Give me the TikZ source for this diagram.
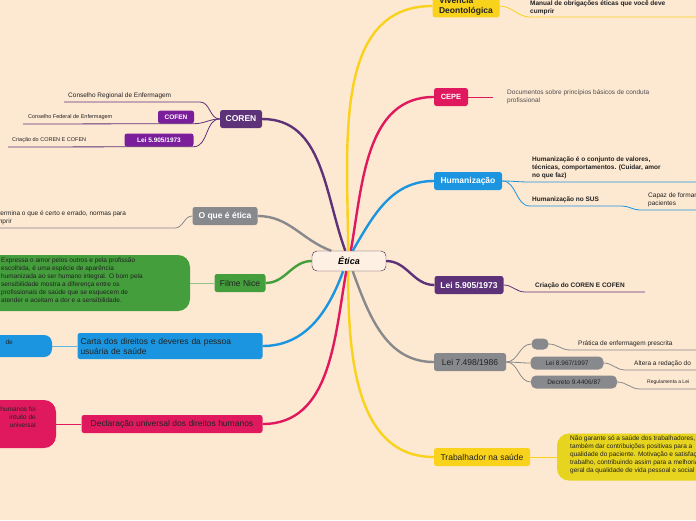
\documentclass[tikz,border=0pt]{standalone}
\usepackage{fontspec}
\setmainfont{Liberation Sans}
\setsansfont{Liberation Sans}
\definecolor{bg}{HTML}{FDE8D2}
\definecolor{pur}{HTML}{5E3278}
\definecolor{pur2}{HTML}{7A1E9C}
\definecolor{mag}{HTML}{E0195F}
\definecolor{blu}{HTML}{1B95E0}
\definecolor{gry}{HTML}{88898C}
\definecolor{yel}{HTML}{F9D21B}
\definecolor{yel2}{HTML}{E6D41E}
\definecolor{grn}{HTML}{449E3C}
\definecolor{txt}{HTML}{222222}
\tikzset{
 box/.style={rounded corners=2.5pt,inner sep=2pt,font=\fontsize{8.5}{10}\selectfont,align=left},
 pill/.style={rounded corners=5pt,inner sep=2pt,fill=gry,text=txt,font=\fontsize{6.5}{7}\selectfont,minimum height=13pt},
 br/.style={line width=2.4pt},
 sb/.style={line width=0.8pt},
 lbl/.style={inner sep=0pt,anchor=west,align=left,text=txt,font=\fontsize{6.5}{8}\selectfont},
 blbl/.style={lbl,font=\bfseries\fontsize{6.5}{8}\selectfont},
 bub/.style={rounded corners=12pt,inner sep=0pt}
}
\begin{document}
\begin{tikzpicture}[x=1pt,y=-1pt]
\useasboundingbox (0,0) rectangle (696,520);
\clip (0,0) rectangle (696,520);
\fill[bg] (0,0) rectangle (696,520);
% center
\node[draw=pur!60!black,fill=bg!60!white,rounded corners=5pt,minimum width=74pt,minimum height=20pt,font=\rmfamily\bfseries\itshape\fontsize{9}{10}\selectfont] (etica) at (349,261) {Ética};
% right main nodes
\node[box,fill=yel,text=txt,font=\bfseries\fontsize{8.5}{10.5}\selectfont,minimum width=67pt] (viv) at (466,6) {Vivência\\Deontológica};
\node[box,fill=mag,text=white,font=\bfseries\fontsize{7.5}{8}\selectfont,minimum width=34pt,minimum height=18pt,align=center] (cepe) at (451,97) {CEPE};
\node[box,fill=blu,text=white,font=\bfseries\fontsize{8.5}{9}\selectfont,minimum width=68pt,minimum height=18pt,align=center] (hum) at (468,181) {Humanização};
\node[box,fill=pur,text=white,font=\bfseries\fontsize{8.5}{9}\selectfont,minimum width=69pt,minimum height=18pt,align=center] (lei5) at (469,285) {Lei 5.905/1973};
\node[box,fill=gry,text=txt,minimum width=72pt,minimum height=18pt,align=center] (lei7) at (470,362) {Lei 7.498/1986};
\node[box,fill=yel,text=txt,minimum width=96pt,minimum height=18pt,align=center] (trab) at (482,457) {Trabalhador na saúde};
% left main nodes
\node[box,fill=pur,text=white,font=\bfseries\fontsize{8.5}{9}\selectfont,minimum width=42pt,minimum height=18pt,align=center] (coren) at (241,119) {COREN};
\node[box,fill=gry,text=white,font=\bfseries\fontsize{8.5}{9}\selectfont,minimum width=65pt,minimum height=18pt,align=center] (oque) at (225,216) {O que é ética};
\node[box,fill=grn,text=txt,minimum width=51pt,minimum height=18pt,align=center] (nice) at (240,283) {Filme Nice};
\node[box,fill=blu,text=txt,text width=179pt,minimum height=26pt,inner sep=3pt] (carta) at (170,346) {Carta dos direitos e deveres da pessoa\\usuária de saúde};
\node[box,fill=mag,text=txt,minimum width=181pt,minimum height=18pt,align=center] (decl) at (172,424) {Declaração universal dos direitos humanos};
% branches
\draw[br,yel] (etica.95) to[out=90,in=180] (viv.west);
\draw[br,yel] (etica.265) to[out=270,in=180] (trab.west);
\draw[br,mag] (etica.80) to[out=80,in=180] (cepe.west);
\draw[br,mag] (etica.255) to[out=260,in=0] (decl.east);
\draw[br,blu] (etica.70) to[out=60,in=180] (hum.west);
\draw[br,blu] (etica.240) to[out=250,in=0] (carta.east);
\draw[br,pur] (etica.east) to[out=0,in=180] (lei5.west);
\draw[br,pur] (etica.110) to[out=110,in=0] (coren.east);
\draw[br,gry] (etica.290) to[out=290,in=180] (lei7.west);
\draw[br,gry] (etica.150) to[out=160,in=0] (oque.east);
\draw[br,grn] (etica.west) to[out=180,in=0] (nice.east);
% Vivência
\coordinate (v1) at (530,17);
\draw[sb,yel] (viv.east) to[out=0,in=180] (v1) -- (696,17);
\node[blbl,anchor=south west] (vt) at (530,15) {Manual de obrigações éticas que você deve\\cumprir};
% CEPE
\coordinate (c1) at (493,97);
\draw[sb,mag] (cepe.east) -- (c1);
\node[lbl,text=txt!80] (ct) at (507,97) {Documentos sobre princípios básicos de conduta\\profissional};
% Humanização
\coordinate (h1) at (530,182);
\coordinate (h2) at (530,206);
\coordinate (h3) at (640,210);
\draw[sb,blu] (hum.east) to[out=0,in=180] (h1) -- (696,182);
\draw[sb,blu] (hum.east) to[out=0,in=180] (h2) -- (622,206) to[out=0,in=180] (h3) -- (696,210);
\node[blbl,anchor=south west] (ht) at (532,179) {Humanização é o conjunto de valores,\\técnicas, comportamentos. (Cuidar, amor\\no que faz)};
\node[blbl,anchor=south west] (hs) at (532,203) {Humanização no SUS};
\node[lbl,anchor=south west] (hc) at (648,207) {Capaz de formar\\pacientes};
% Lei 5.905 right
\coordinate (l1) at (525,292);
\draw[sb,pur] (lei5.east) to[out=0,in=180] (l1) -- (645,292);
\node[blbl,anchor=south west] (lt) at (535,289) {Criação do COREN E COFEN};
% Lei 7.498
\node[pill,minimum width=17pt,minimum height=11pt] (p0) at (540,344) {};
\node[pill,minimum width=73pt] (p1) at (567,363) {Lei 8.967/1997};
\node[pill,minimum width=86pt] (p2) at (574,382) {Decreto 9.4406/87};
\draw[sb,gry] (lei7.east) to[out=0,in=180] (p0.west);
\draw[sb,gry] (lei7.east) to[out=0,in=180] (p1.west);
\draw[sb,gry] (lei7.east) to[out=0,in=180] (p2.west);
\coordinate (g0) at (570,350);
\coordinate (g1) at (625,370);
\coordinate (g2) at (640,389);
\draw[sb,gry] (p0.east) to[out=0,in=180] (g0) -- (696,350);
\draw[sb,gry] (p1.east) to[out=0,in=180] (g1) -- (696,370);
\draw[sb,gry] (p2.east) to[out=0,in=180] (g2) -- (696,389);
\node[lbl,anchor=south west] (gt0) at (578,347) {Prática de enfermagem prescrita};
\node[lbl,anchor=south west] (gt1) at (634,367) {Altera a redação do};
\node[lbl,anchor=south west,font=\fontsize{5}{6}\selectfont] (gt2) at (647,385) {Regulamenta a Lei};
% Trabalhador
\node[bub,fill=yel2,minimum width=170pt,minimum height=47pt] (tb) at (642,457) {};
\node[lbl,anchor=north west] (tbt) at (570,436) {Não garante só a saúde dos trabalhadores, mas\\também dar contribuições positivas para a\\qualidade do paciente. Motivação e satisfação no\\trabalho, contribuindo assim para a melhoria\\geral da qualidade de vida pessoal e social};
\draw[sb,yel] (trab.east) -- (tb.west);
% COREN children
\node[box,fill=pur2,text=white,font=\bfseries\fontsize{6.5}{7}\selectfont,minimum width=36pt,minimum height=13pt,align=center] (cofen) at (176,117) {COFEN};
\node[box,fill=pur2,text=white,font=\bfseries\fontsize{6.5}{7}\selectfont,minimum width=69pt,minimum height=13pt,align=center] (lcor) at (159,140) {Lei 5.905/1973};
\coordinate (k0) at (200,102);
\draw[sb,pur] (coren.west) to[out=180,in=0] (k0) -- (64,102);
\draw[sb,pur] (coren.west) to[out=180,in=0] (cofen.south east) -- (23,124);
\draw[sb,pur] (coren.west) to[out=180,in=0] (lcor.south east) -- (8,147);
\node[lbl,anchor=south west] (kt0) at (68,99) {Conselho Regional de Enfermagem};
\node[lbl,anchor=south west,font=\fontsize{5.5}{6}\selectfont] (kt1) at (28,120) {Conselho Federal de Enfermagem};
\node[lbl,anchor=south west,font=\fontsize{5.5}{6}\selectfont] (kt2) at (12,143) {Criação do COREN E COFEN};
% O que é ética
\coordinate (o1) at (175,228);
\draw[sb,gry] (oque.west) to[out=180,in=0] (o1) -- (0,228);
\node[lbl,anchor=south west] (ot) at (-10,225) {Determina o que é certo e errado, normas para\\cumprir};
% Filme Nice
\node[bub,fill=grn,minimum width=210pt,minimum height=56pt] (nb) at (85,283) {};
\node[lbl,anchor=north west] (nbt) at (1,258) {Expressa o amor pelos outros e pela profissão\\escolhida, é uma espécie de aparência\\humanizada ao ser humano integral. O bom pela\\sensibilidade mostra a diferença entre os\\profissionais de saúde que se esquecem de\\atender e aceitam a dor e a sensibilidade.};
\draw[sb,grn!60] (nb.east) -- (nice.west);
% Carta
\node[bub,fill=blu,rounded corners=8pt,minimum width=72pt,minimum height=22pt] (cb) at (16,346) {};
\node[lbl,anchor=east] (cbt) at (13,342) {de};
\draw[sb,blu!70] (cb.east) -- (carta.west);
% Declaração
\node[bub,fill=mag,minimum width=76pt,minimum height=48pt] (db) at (18,424) {};
\node[lbl,anchor=north east,align=right] (dbt) at (36,407) {humanos foi\\intuito de\\universal};
\draw[sb,mag] (db.east) -- (decl.west);
\end{tikzpicture}
\end{document}
